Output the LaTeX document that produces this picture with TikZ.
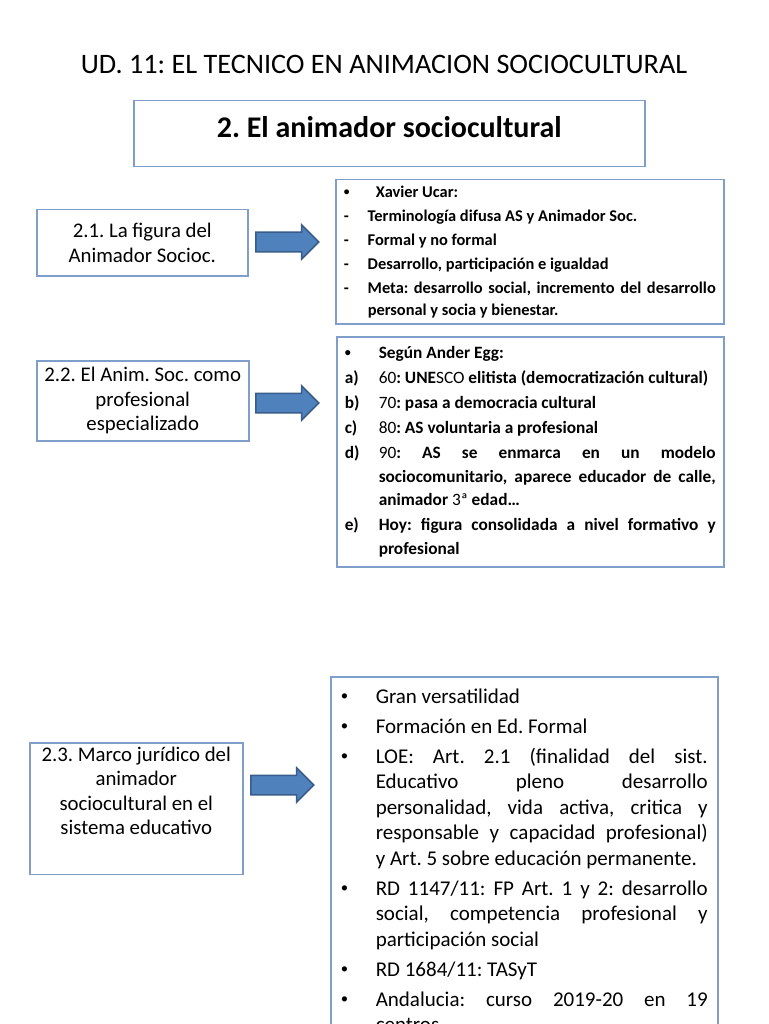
\documentclass[tikz,border=0pt]{standalone}
\usepackage{fontspec}
\setmainfont{Carlito}
\usetikzlibrary{positioning,shapes.arrows}
\definecolor{AsBlue}{RGB}{79,129,189}
\definecolor{AsDarkBlue}{RGB}{56,93,138}
\definecolor{AsFrame}{RGB}{128,158,202}
\frenchspacing
\newcommand{\asfont}[2]{\fontsize{#1}{#2}\selectfont}
\newcommand{\asdot}{\raisebox{0.12em}{\scalebox{0.7}{•}}}
\newcommand{\asitem}[3]{\noindent\hangindent=#1\hangafter=1\makebox[#1][l]{#2}#3\par}
\tikzset{
  as/box/.style={
    draw=AsFrame,
    line width=1.5pt,
    fill=white,
    anchor=north west,
    inner sep=0pt
  },
  as/section/.style={as/box, align=center, font=\asfont{20.8}{24.5}},
  as/list/.style={as/box, align=justify, inner xsep=8pt},
  as/arrow/.style={
    single arrow,
    draw=AsDarkBlue,
    line width=1.5pt,
    fill=AsBlue,
    minimum height=63pt,
    inner xsep=0pt,
    inner ysep=9pt,
    single arrow head extend=7.5pt,
    anchor=west
  },
  as/heading/.style={font=\asfont{28.2}{34}}
}

\begin{document}
\begin{tikzpicture}[x=1pt,y=-1pt]
  \useasboundingbox (0,0) rectangle (768,1024);
  \fill[white] (0,0) rectangle (768,1024);

  \node[as/heading] (unit) at (384,64) {UD. 11: EL TECNICO EN ANIMACION SOCIOCULTURAL};
  \node[as/box, minimum width=511pt, text height=37pt, text depth=29pt,
    font=\asfont{30}{36}\bfseries] (part) at (133,100) {2. El animador sociocultural};

  % left column
  \node[as/section, minimum width=211pt, minimum height=66pt] (sec1) at (36,209)
    {2.1. La figura del\\Animador Socioc.};
  \node[as/section, minimum width=212pt, minimum height=80pt] (sec2) at (36,360)
    {2.2. El Anim. Soc. como\\profesional\\especializado};
  \node[as/section, minimum width=213pt, inner ysep=4pt] (sec3) at (29,742)
    {2.3. Marco jurídico del\\animador\\sociocultural en el\\sistema educativo\rule[-36pt]{0pt}{36pt}};

  % arrows
  \node[as/arrow] (arr1) at (255,242) {};
  \node[as/arrow] (arr2) at (255,403) {};
  \node[as/arrow] (arr3) at (250,785) {};

  % right column
  \node[as/list, text width=372pt, minimum height=144pt, font=\asfont{16.4}{22}\bfseries] (det1) at (335,179) {%
    \setlength{\parindent}{0pt}\setlength{\parskip}{2pt}%
    \asitem{32pt}{\asdot}{Xavier Ucar:}
    \asitem{24pt}{-}{Terminología difusa AS y Animador Soc.}
    \asitem{24pt}{-}{Formal y no formal}
    \asitem{24pt}{-}{Desarrollo, participación e igualdad}
    \asitem{24pt}{-}{Meta: desarrollo social, incremento del desarrollo personal y socia y bienestar.}};
  \node[as/list, text width=371pt, minimum height=230pt, font=\asfont{17.3}{23.5}\bfseries] (det2) at (336,336) {%
    \setlength{\parindent}{0pt}\setlength{\parskip}{1.5pt}%
    \asitem{34pt}{\asdot}{Según Ander Egg:}
    \asitem{34pt}{a)}{{\mdseries 60}: UNE{\mdseries SCO} elitista (democratización cultural)}
    \asitem{34pt}{b)}{{\mdseries 70}: pasa a democracia cultural}
    \asitem{34pt}{c)}{{\mdseries 80}: AS voluntaria a profesional}
    \asitem{34pt}{d)}{{\mdseries 90}: AS se enmarca en un modelo\linebreak sociocomunitario, aparece educador de calle,\linebreak animador {\mdseries 3ª} edad…}
    \asitem{34pt}{e)}{Hoy: figura consolidada a nivel formativo y\linebreak profesional}};
  \node[as/list, inner xsep=10pt, inner ysep=12pt, text width=367pt, font=\asfont{21}{25.5}] (det3) at (330,676) {%
    \setlength{\parindent}{0pt}\setlength{\parskip}{4.5pt}%
    \asitem{35pt}{\asdot}{Gran versatilidad}
    \asitem{35pt}{\asdot}{Formación en Ed. Formal}
    \asitem{35pt}{\asdot}{LOE: Art. 2.1 (finalidad del sist.\linebreak Educativo pleno desarrollo\linebreak personalidad, vida activa, critica y\linebreak responsable y capacidad profesional)\linebreak y Art. 5 sobre educación permanente.}
    \asitem{35pt}{\asdot}{RD 1147/11: FP Art. 1 y 2: desarrollo\linebreak social, competencia profesional y\linebreak participación social}
    \asitem{35pt}{\asdot}{RD 1684/11: TASyT}
    \asitem{35pt}{\asdot}{Andalucia: curso 2019-20 en 19\linebreak centros}};
\end{tikzpicture}
\end{document}
